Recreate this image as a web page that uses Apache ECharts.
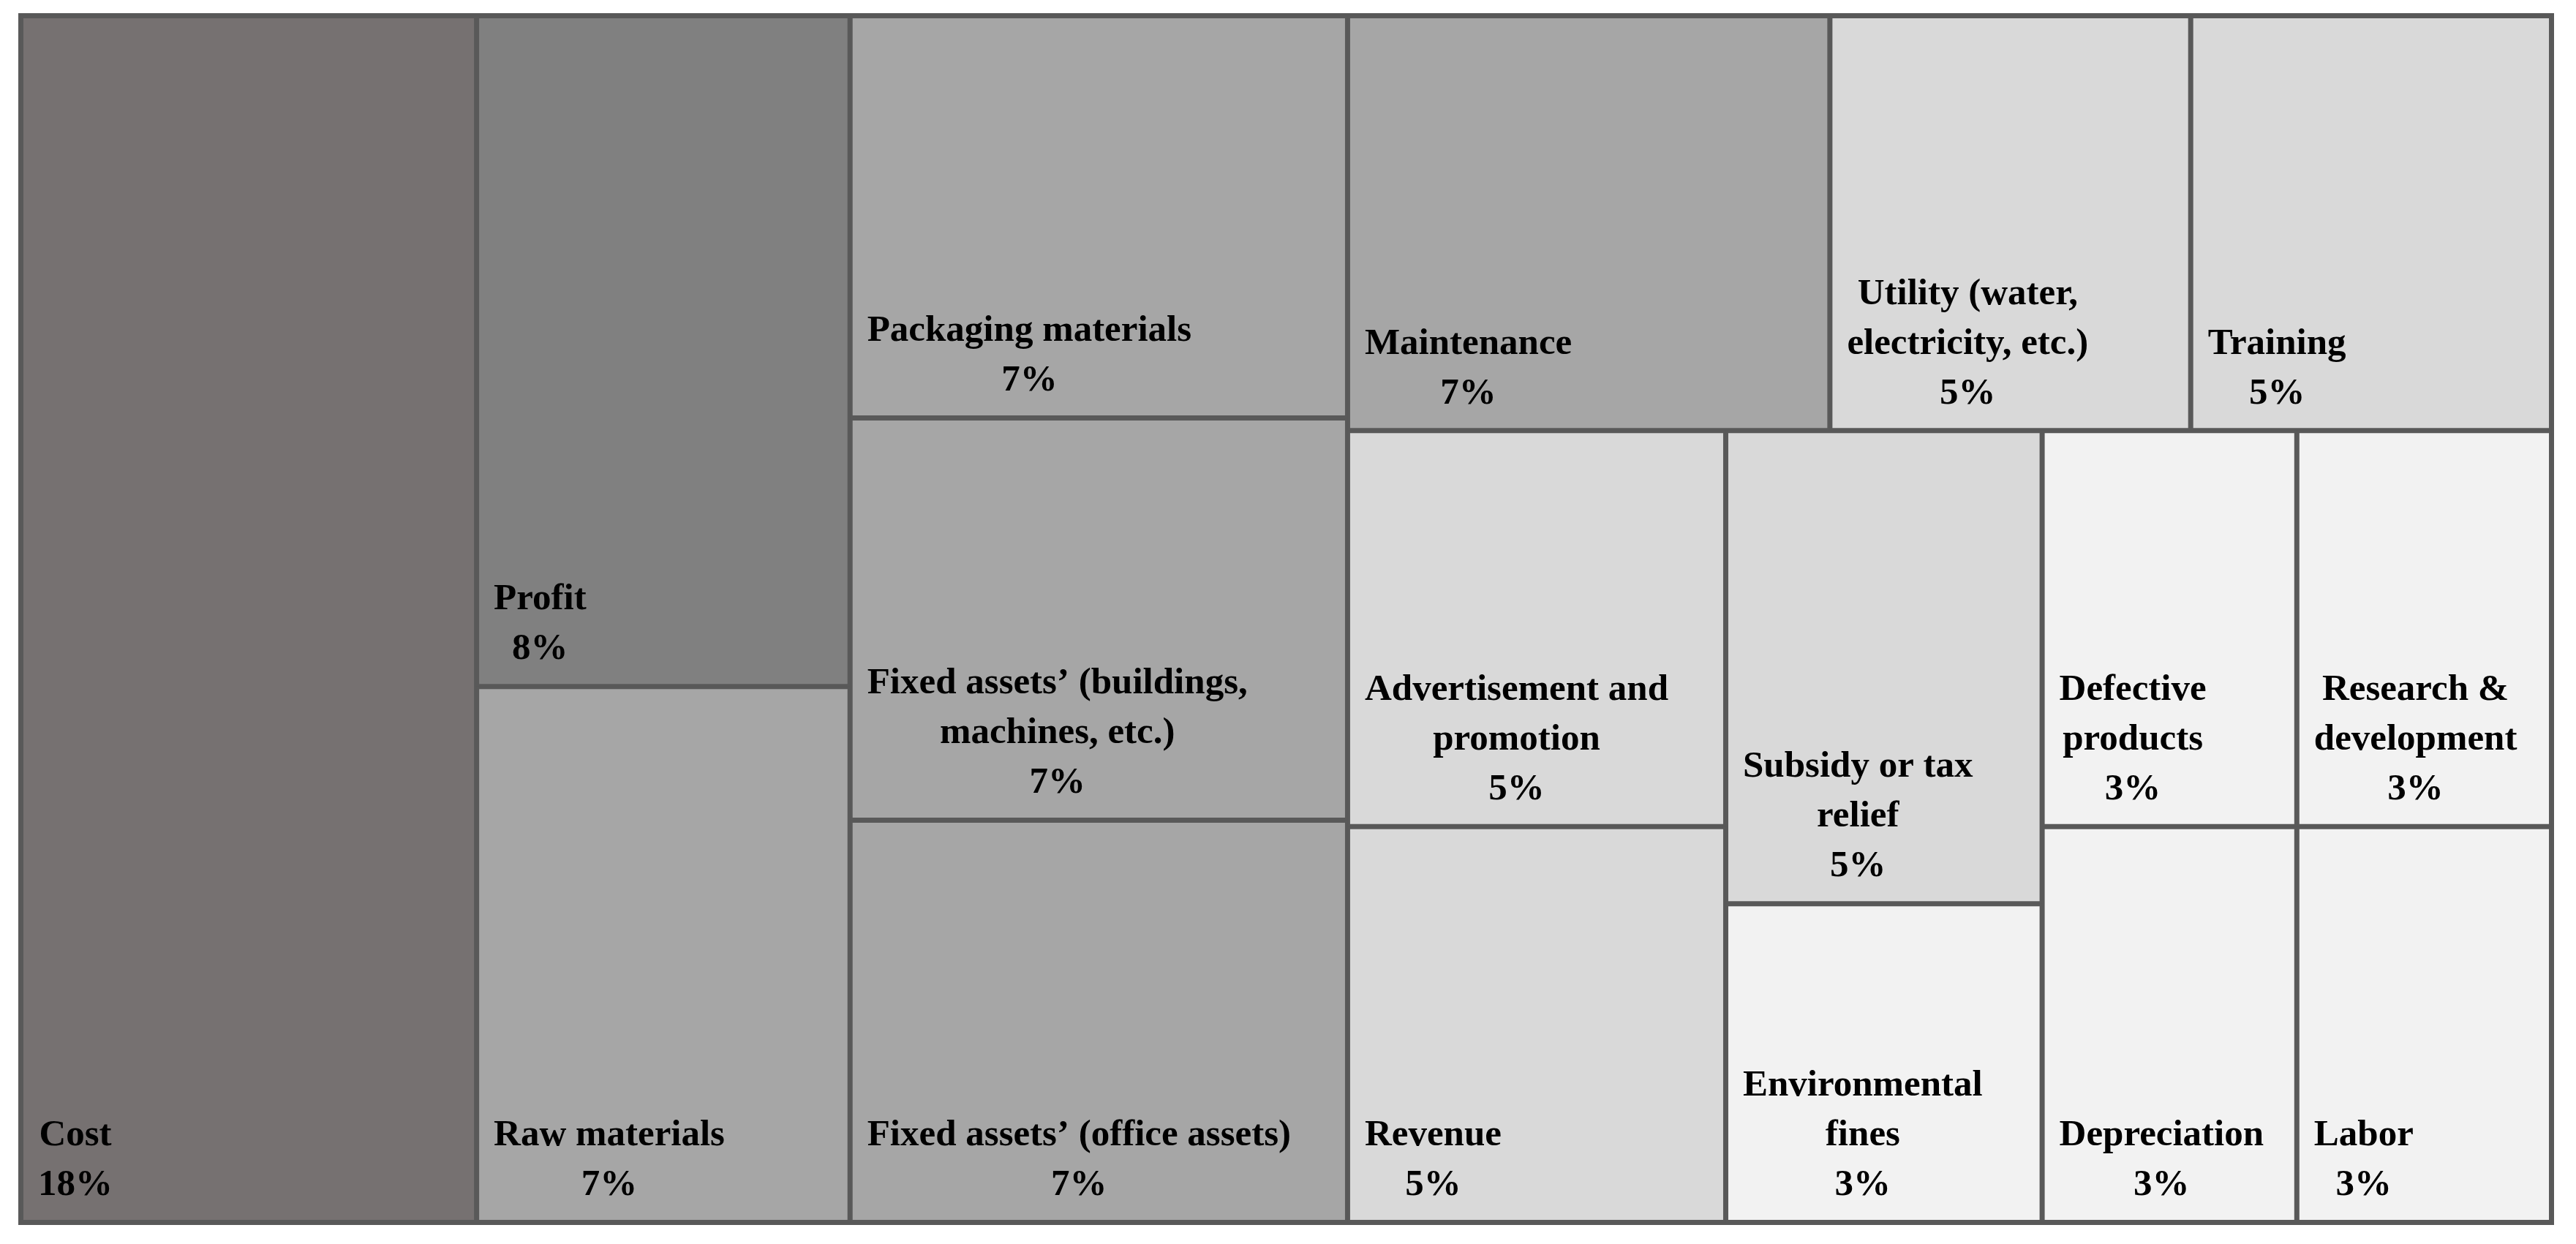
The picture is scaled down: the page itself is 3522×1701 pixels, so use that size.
<!DOCTYPE html>
<html>
<head>
<meta charset="utf-8">
<script src="https://cdn.jsdelivr.net/npm/echarts@6/dist/echarts.min.js"></script>
<style>
  html, body { margin: 0; padding: 0; background: #ffffff; }
  #chart { width: 3522px; height: 1701px; }
</style>
</head>
<body>
<div id="chart"></div>
<script>
// ---- data ----
const categories = [
  'Cost', 'Profit', 'Raw materials', 'Packaging materials',
  'Fixed assets\u2019 (buildings, machines, etc.)', 'Fixed assets\u2019 (office assets)',
  'Maintenance', 'Utility (water, electricity, etc.)', 'Training',
  'Advertisement and promotion', 'Revenue', 'Subsidy or tax relief',
  'Environmental fines', 'Defective products', 'Depreciation',
  'Research & development', 'Labor'
];
// label text as wrapped in the picture
const labelLines = [
  ['Cost'], ['Profit'], ['Raw materials'], ['Packaging materials'],
  ['Fixed assets\u2019 (buildings,', 'machines, etc.)'], ['Fixed assets\u2019 (office assets)'],
  ['Maintenance'], ['Utility (water,', 'electricity, etc.)'], ['Training'],
  ['Advertisement and', 'promotion'], ['Revenue'], ['Subsidy or tax', 'relief'],
  ['Environmental', 'fines'], ['Defective', 'products'], ['Depreciation'],
  ['Research &', 'development'], ['Labor']
];
// shares (%) estimated from the tile areas
const shares = [18.0, 8.2, 6.55, 6.55, 6.55, 6.55, 6.55, 4.9, 4.9, 4.9, 4.9, 4.9, 3.3, 3.3, 3.3, 3.3, 3.3];

// ---- styles ----
const fills = ['#767171', '#808080', '#a6a6a6', '#a6a6a6', '#a6a6a6', '#a6a6a6', '#a6a6a6',
  '#d9d9d9', '#d9d9d9', '#d9d9d9', '#d9d9d9', '#d9d9d9',
  '#f2f2f2', '#f2f2f2', '#f2f2f2', '#f2f2f2', '#f2f2f2'];
const lineColor = '#595959';
const FONT_FAMILY = '"Liberation Serif", "Times New Roman", serif';
const FONT_SIZE = 51;
const LINE_HEIGHT = 68;

// grouping of tiles (nesting used so the library's squarified layout reproduces the arrangement)
const grouping = [0, [1, 2, [3, 4, 5, [6, 7, 8, [[[9, 10], [11, 12]], [[13, 14], [15, 16]]]]]]];

const total = shares.reduce((a, b) => a + b, 0);
const ctx = document.createElement('canvas').getContext('2d');
ctx.font = 'bold ' + FONT_SIZE + 'px ' + FONT_FAMILY;

function labelFor(i) {
  const pct = Math.round(shares[i] / total * 100) + '%';
  return labelLines[i].concat([pct]);
}

function build(node) {
  if (typeof node === 'number') {
    const lines = labelFor(node);
    const w = Math.max.apply(null, lines.map(l => ctx.measureText(l).width));
    return {
      name: categories[node],
      value: shares[node],
      idx: node,
      itemStyle: { color: fills[node], borderWidth: 3.5, borderColor: lineColor },
      label: { offset: [20 + w / 2, -13] }
    };
  }
  return { name: '', children: node.map(build) };
}

const treeData = grouping.map(build);

const chart = echarts.init(document.getElementById('chart'), null, { renderer: 'canvas' });
chart.setOption({
  backgroundColor: '#ffffff',
  animation: false,
  series: [{
    type: 'treemap',
    left: 25, top: 18, width: 3467, height: 1657,
    sort: false,
    roam: false,
    nodeClick: false,
    breadcrumb: { show: false },
    itemStyle: { borderWidth: 0, gapWidth: 0, borderColor: lineColor },
    levels: [{ itemStyle: { borderWidth: 3.5, borderColor: lineColor, gapWidth: 0 } }],
    upperLabel: { show: false },
    label: {
      show: true,
      position: 'insideBottomLeft',
      align: 'center',
      distance: 0,
      padding: 0,
      color: '#000000',
      fontFamily: FONT_FAMILY,
      fontWeight: 'bold',
      fontSize: FONT_SIZE,
      lineHeight: LINE_HEIGHT,
      overflow: 'none',
      formatter: function (p) {
        const d = p.data;
        if (d == null || d.idx == null) return '';
        return labelFor(d.idx).join('\n');
      }
    },
    data: treeData
  }]
});
</script>
</body>
</html>
